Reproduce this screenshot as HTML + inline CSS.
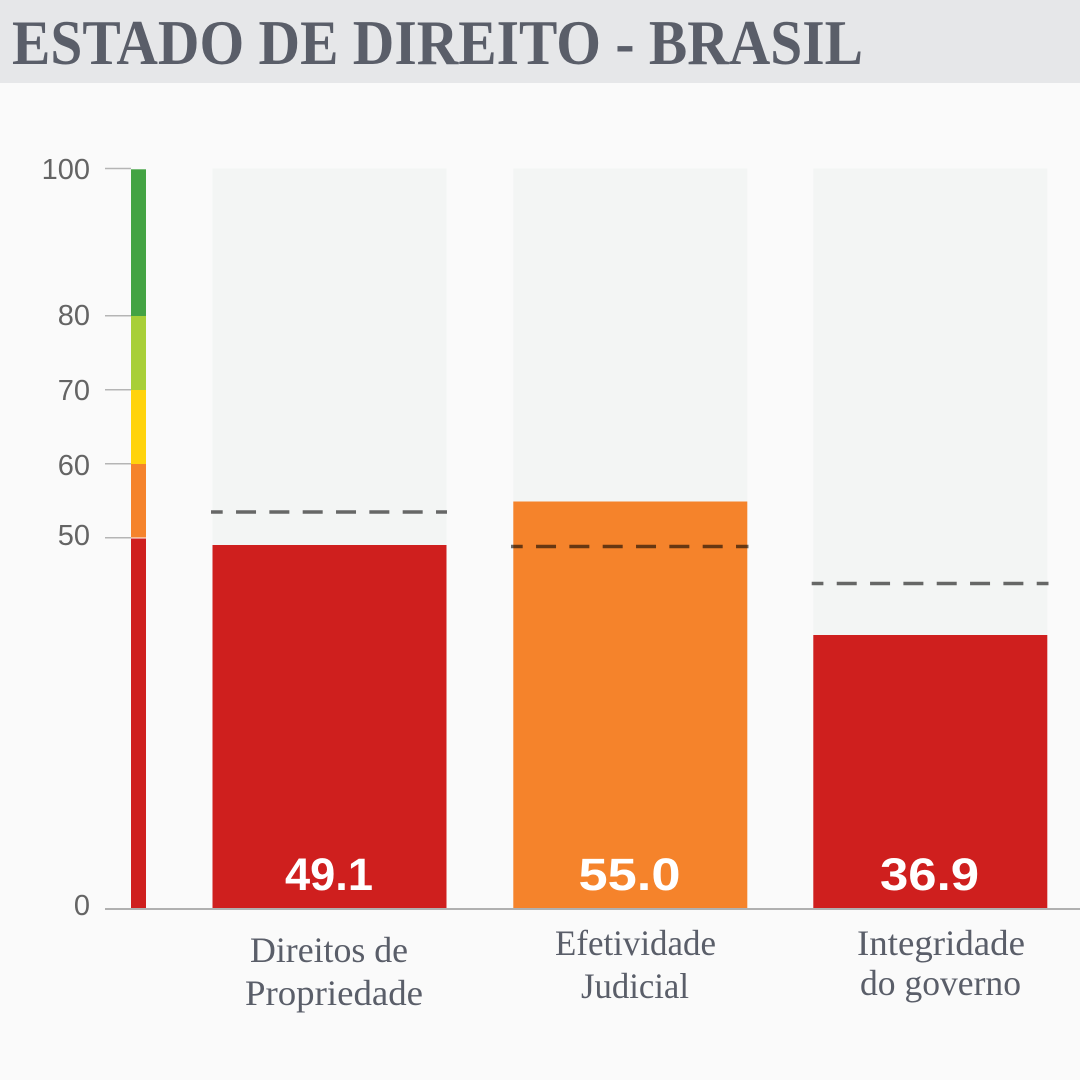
<!DOCTYPE html>
<html>
<head>
<meta charset="utf-8">
<style>
  html,body{margin:0;padding:0;background:#fafafa;}
  svg{display:block;}
</style>
</head>
<body>
<svg width="1080" height="1080" viewBox="0 0 1080 1080" xmlns="http://www.w3.org/2000/svg">
  <rect x="0" y="0" width="1080" height="1080" fill="#fafafa"/>
  <!-- header -->
  <rect x="0" y="0" width="1080" height="83" fill="#e6e7e9"/>
  <text x="12" y="64" font-family="Liberation Serif, serif" font-weight="bold" font-size="63" fill="#5a5e69" textLength="851" lengthAdjust="spacingAndGlyphs">ESTADO DE DIREITO - BRASIL</text>

  <!-- bar backgrounds -->
  <rect x="212.5" y="168.5" width="234" height="740" fill="#f3f5f4"/>
  <rect x="513.3" y="168.5" width="234" height="740" fill="#f3f5f4"/>
  <rect x="813.3" y="168.5" width="234" height="740" fill="#f3f5f4"/>

  <!-- bars -->
  <rect x="212.5" y="545" width="234" height="363" fill="#cf1f1e"/>
  <rect x="513.3" y="501.5" width="234" height="406.5" fill="#f5832b"/>
  <rect x="813.3" y="635" width="234" height="273" fill="#cf1f1e"/>

  <!-- dashed reference lines -->
  <g stroke="#000" stroke-opacity="0.58" stroke-width="3.5" stroke-dasharray="20 13.33" stroke-dashoffset="8.3" fill="none">
    <line x1="211" y1="512" x2="447" y2="512"/>
    <line x1="511" y1="546.5" x2="748.5" y2="546.5"/>
    <line x1="811.7" y1="583.5" x2="1048.5" y2="583.5"/>
  </g>

  <!-- color scale bar -->
  <rect x="131" y="169.3" width="15" height="146.7" fill="#43a343"/>
  <rect x="131" y="316" width="15" height="74" fill="#a8cf38"/>
  <rect x="131" y="390" width="15" height="74" fill="#ffd30c"/>
  <rect x="131" y="464" width="15" height="73.5" fill="#f5832b"/>
  <rect x="131" y="538.5" width="15" height="369.5" fill="#cf1f1e"/>

  <!-- ticks -->
  <g stroke="#b5b5b5" stroke-width="1.5">
    <line x1="105" y1="168.5" x2="131" y2="168.5"/>
    <line x1="105" y1="315.7" x2="131" y2="315.7"/>
    <line x1="105" y1="389.7" x2="131" y2="389.7"/>
    <line x1="105" y1="463.7" x2="131" y2="463.7"/>
    <line x1="105" y1="537.7" x2="131" y2="537.7"/>
  </g>
  <!-- baseline -->
  <line x1="105" y1="909" x2="1080" y2="909" stroke="#b0b0b0" stroke-width="2"/>

  <!-- y labels -->
  <g font-family="Liberation Sans, sans-serif" font-size="29" fill="#646464" text-anchor="end">
    <text x="90" y="179">100</text>
    <text x="90" y="325">80</text>
    <text x="90" y="400">70</text>
    <text x="90" y="475">60</text>
    <text x="90" y="545">50</text>
    <text x="90" y="915">0</text>
  </g>

  <!-- value labels -->
  <g font-family="Liberation Sans, sans-serif" font-weight="bold" font-size="45" fill="#ffffff">
    <text x="285" y="890" textLength="88" lengthAdjust="spacingAndGlyphs">49.1</text>
    <text x="578.5" y="890" textLength="102" lengthAdjust="spacingAndGlyphs">55.0</text>
    <text x="880" y="890" textLength="99" lengthAdjust="spacingAndGlyphs">36.9</text>
  </g>

  <!-- category labels -->
  <g font-family="Liberation Serif, serif" font-size="36" fill="#5a5e69">
    <text x="250" y="962" textLength="158" lengthAdjust="spacingAndGlyphs">Direitos de</text>
    <text x="245" y="1005" textLength="178" lengthAdjust="spacingAndGlyphs">Propriedade</text>
    <text x="555" y="955" textLength="161" lengthAdjust="spacingAndGlyphs">Efetividade</text>
    <text x="581" y="998" textLength="108" lengthAdjust="spacingAndGlyphs">Judicial</text>
    <text x="857" y="955" textLength="168" lengthAdjust="spacingAndGlyphs">Integridade</text>
    <text x="860" y="995" textLength="161" lengthAdjust="spacingAndGlyphs">do governo</text>
  </g>
</svg>
</body>
</html>
